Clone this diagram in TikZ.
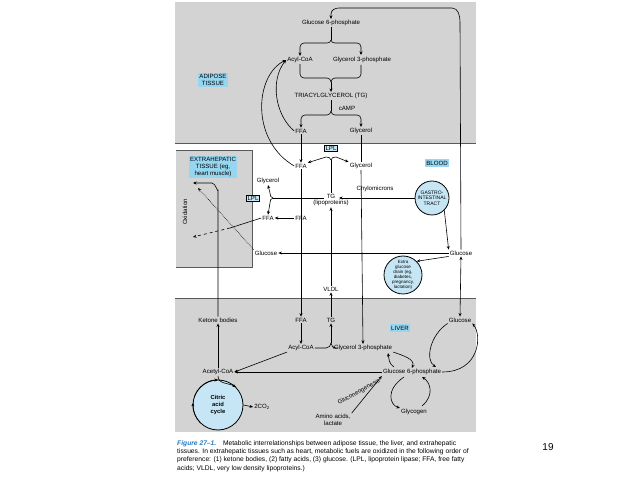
\documentclass[tikz,border=0pt]{standalone}
\usepackage{fontspec}
\setmainfont{Liberation Sans}
\usetikzlibrary{arrows.meta}
\definecolor{bg}{RGB}{211,211,211}
\definecolor{lb}{RGB}{150,214,240}
\definecolor{cb}{RGB}{198,230,245}
\definecolor{capblue}{RGB}{40,120,190}
\begin{document}
\begin{tikzpicture}[x=1pt,y=-1pt,
  t/.style={font=\fontsize{6.1}{6.8}\selectfont,inner sep=1pt,align=center},
  lbl/.style={t,fill=lb,inner sep=1.5pt},
  lpl/.style={t,fill=cb,draw,inner sep=1pt},
  circ/.style={circle,draw,thick,fill=cb,t,inner sep=0pt},
  a/.style={-{Stealth[length=3.5pt,width=3pt]},semithick},
  l/.style={semithick}]
\useasboundingbox (0,0) rectangle (638,478);
% regions
\fill[bg] (175,2) rectangle (476,143);
\fill[bg] (175,298) rectangle (476,432);
\draw[thick,gray!70!black] (175,143) -- (476,143);
\draw[thick,gray!70!black] (175,298) -- (476,298);
\fill[bg] (176,150) rectangle (252,267);
\draw[gray!70!black] (176,150) -- (252,150) -- (252,267) -- (176,267);
\node[lbl] (adi) at (213,80) {ADIPOSE\\TISSUE};
\node[lbl] (ext) at (213,167) {EXTRAHEPATIC\\TISSUE (eg,\\heart muscle)};
\node[lbl] (blood) at (437,163) {BLOOD};
\node[lbl] (liver) at (400,328) {LIVER};
\node[t,rotate=90] (oxi) at (185,212) {Oxidation};
% adipose
\node[t] (g6pa) at (331,23) {Glucose 6-phosphate};
\node[t] (acyla) at (300,60) {Acyl-CoA};
\node[t] (g3pa) at (362,60) {Glycerol 3-phosphate};
\node[t] (tga) at (331,96) {TRIACYLGLYCEROL (TG)};
\node[t] (camp) at (347,108) {cAMP};
\node[t] (ffaa) at (301,131) {FFA};
\node[t] (glya) at (361,131) {Glycerol};
\draw[l] (g6pa.south) -- (331,40);
\draw[a] (331,40) to[out=-90,in=0] (327,43) -- (304,43) to[out=180,in=90] (300,47) -- (acyla.north);
\draw[a] (331,40) to[out=-90,in=180] (335,43) -- (357,43) to[out=0,in=90] (361,47) -- (361,55);
\draw[l] (acyla.south) -- (300,74) to[out=-90,in=180] (304,78) -- (327,78) to[out=0,in=90] (331,82);
\draw[l] (361,65) -- (361,74) to[out=-90,in=0] (357,78) -- (335,78) to[out=180,in=90] (331,82);
\draw[a] (331,82) -- (tga.north);
\draw[l] (tga.south) -- (331,111);
\draw[a] (331,111) to[out=-90,in=0] (327,115) -- (305,115) to[out=180,in=90] (301,119) -- (ffaa.north);
\draw[a] (331,111) to[out=-90,in=180] (335,115) -- (357,115) to[out=0,in=90] (361,119) -- (glya.north);
\draw[a] (ffaa.west) .. controls (275,115) and (270,80) .. (acyla.west);
% blood
\node[lpl] (lplb) at (331,148) {LPL};
\node[t] (ffab) at (301,166) {FFA};
\node[t] (glyb) at (361,166) {Glycerol};
\node[t] (tgb) at (331,200) {TG\\(lipoproteins)};
\node[t] (chylo) at (375,189) {Chylomicrons};
\node[circ,minimum size=34pt,font=\fontsize{5}{5.6}\selectfont] (git) at (432,198) {GASTRO-\\INTESTINAL\\TRACT};
\node[t] (glyc) at (268,181) {Glycerol};
\node[lpl] (lple) at (253,198) {LPL};
\node[t] (ffal) at (268,218) {FFA};
\node[t] (ffar) at (301,218) {FFA};
\node[t] (glue) at (266,253) {Glucose};
\node[t] (glub) at (461,253) {Glucose};
\node[circ,minimum size=38pt,font=\fontsize{4.5}{4.9}\selectfont] (drain) at (403,275) {Extra\\glucose\\drain (eg,\\diabetes,\\pregnancy,\\lactation)};
\node[t] (vldl) at (331,289) {VLDL};
\draw[a] (ffaa.south) -- (ffab.north);
\draw[l] (glya.south) -- (glyb.north);
\draw[a] (ffab.west) .. controls (250,140) and (255,75) .. (acyla.west);
\draw[l] (tgb.north) -- (331,160);
\draw[a] (331,160) to[out=90,in=0] (326,157) -- (ffab.north east);
\draw[a] (331,160) to[out=90,in=180] (336,157) -- (glyb.north west);
\draw[a] (git.west) -- (339,198);
\draw[l] (324,198) -- (273,198);
\draw[a] (273,198) to[out=180,in=-90] (270,193) -- (glyc.south);
\draw[a] (273,198) to[out=180,in=90] (270,203) -- (ffal.north);
\draw[a] (ffar.west) -- (ffal.east);
\draw[l] (ffal.west) -- (230,228);
\draw[a,dashed] (230,228) -- (193,237);
\draw[a,densely dotted] (glue.north west) -- (198,188);
\draw[a] (glub.west) -- (glue.east);
\draw[a] (git.south east) -- (glub.north west);
\draw[a] (glub.south west) -- (drain.north east);
\draw[a] (vldl.north) -- (tgb.south);
% liver
\node[t] (ket) at (218,320) {Ketone bodies};
\node[t] (ffal2) at (301,320) {FFA};
\node[t] (tgl) at (331,320) {TG};
\node[t] (glul) at (460,320) {Glucose};
\node[t] (acyll) at (301,348) {Acyl-CoA};
\node[t] (g3pl) at (363,348) {Glycerol 3-phosphate};
\node[t] (acet) at (218,372) {Acetyl-CoA};
\node[t] (g6pl) at (412,372) {Glucose 6-phosphate};
\node[circ,minimum size=50pt,font=\fontsize{5.8}{6.6}\selectfont\bfseries] (tca) at (218,405) {Citric\\acid\\cycle};
\node[t] (co2) at (262,407) {2CO\textsubscript{2}};
\node[t] (amino) at (333,420) {Amino acids,\\lactate};
\node[t] (glyco) at (414,412) {Glycogen};
\node[t,rotate=29] (gng) at (359,392) {Gluconeogenesis};
\draw[a] (ffab.south) -- (ffal2.north);
\draw[a] (glyb.south) -- (g3pl.north);
\draw[a] (tgl.north) -- (vldl.south);
\draw[a] (ffal2.south) -- (acyll.north);
\draw[l] (acyll.east) -- (326,348) to[out=0,in=-90] (331,343);
\draw[l] (331,343) to[out=-90,in=180] (336,348) -- (g3pl.west);
\draw[a] (331,343) -- (tgl.south);
\draw[a] (acyll.south west) -- (acet.east);
\draw[a] (g6pl.west) -- (acet.east);
\draw[a] (acet.north) -- (ket.south);
\draw[a] (ket.north) -- (218,190) to[out=-90,in=0] (212,183) -- (193,183);
\draw[a] (acet.south) to[out=-90,in=150] (tca.north east);
\draw[a] (tca.east) -- (co2.west);
\draw[a] (tca.center) ++(135:25) arc[start angle=135,end angle=185,radius=25];
\draw[a] (tca.center) ++(200:25) arc[start angle=200,end angle=270,radius=25];
\draw[a] (amino.north east) -- (g6pl.south west);
\draw[a] (g3pl.south east) to[out=-20,in=70] (g6pl.north);
\draw[a] (394,367) to[out=150,in=-80] (388,353);
\draw[a] (404,377) .. controls (385,390) and (390,405) .. (glyco.north west);
\draw[a] (422,406) .. controls (435,395) and (430,382) .. (422,377);
\draw[a] (g6pl.east) .. controls (480,372) and (482,335) .. (glul.south east);
\draw[a] (glul.south west) .. controls (430,335) and (425,360) .. (436,367);
% glucose circuit
\draw[a] (glub.north) -- (460,22) to[out=90,in=0] (452,8) -- (339,8) to[out=180,in=90] (331,14) -- (g6pa.north);
\draw[{Stealth[length=3.5pt,width=3pt]}-{Stealth[length=3.5pt,width=3pt]},semithick] (glub.south) -- (glul.north);
% caption
\node[anchor=north west,inner sep=0pt,font=\fontsize{6.7}{8.4}\selectfont,align=left] (cap) at (177,440)
 {\textcolor{capblue}{\itshape\bfseries Figure 27--1.}\quad Metabolic interrelationships between adipose tissue, the liver, and extrahepatic\\ tissues. In extrahepatic tissues such as heart, metabolic fuels are oxidized in the following order of\\ preference: (1) ketone bodies, (2) fatty acids, (3) glucose. (LPL, lipoprotein lipase; FFA, free fatty\\ acids; VLDL, very low density lipoproteins.)};
\node[font=\fontsize{10}{12}\selectfont\rmfamily,inner sep=0pt] (pg) at (548,447) {19};
\end{tikzpicture}
\end{document}
